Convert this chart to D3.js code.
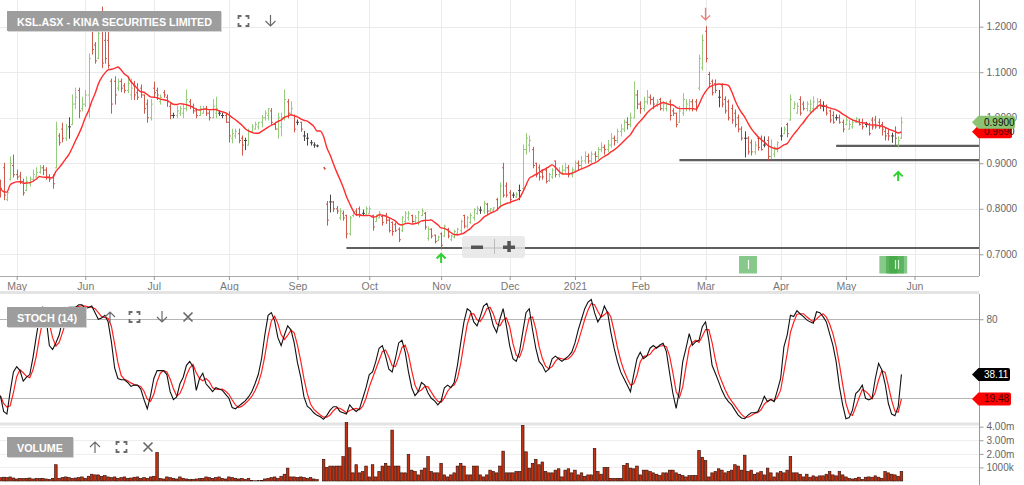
<!DOCTYPE html>
<html><head><meta charset="utf-8">
<script src="https://cdn.jsdelivr.net/npm/d3@7"></script>
<style>body{margin:0;background:#fff}svg{display:block;font-family:"Liberation Sans",Arial,sans-serif}</style>
</head><body><svg id="c" width="1024" height="485"></svg>
<script>
// ---------- DATA ----------
const monthLabels=["May","Jun","Jul","Aug","Sep","Oct","Nov","Dec","2021","Feb","Mar","Apr","May","Jun"];
const monthIdx=[5,26,47,70,91,113,135,156,176,196,216,239,259,280];
const priceTicks=[0.7,0.8,0.9,1.0,1.1,1.2];
const stochLevels=[80,20];
const volTicks=[1,2,3,4];
const volTickLabels=["1000k","2.00m","3.00m","4.00m"];
const supportLevels=[0.7138,0.907,0.938];
const supportStart=[106,208,256];
const signalIdx=[216,135,275];
const signalPrice=[1.215,0.7007,0.881];
const signalDir=["down","up","up"];
const eventIdx=[229,272,274,275];

const opens=[
.86,.89,.82,.865,.895,.875,.872,.86,.84,.855,
.865,.87,.88,.89,.885,.87,.87,.89,.96,.975,
.955,.98,.985,1.03,1.06,1.02,1.03,1.05,1.19,1.16,
1.13,1.2,1.17,1.17,1.08,1.08,1.065,1.08,1.07,1.06,
1.05,1.07,1.055,1.065,1.05,1.03,1.0,1.065,1.06,1.035,
1.055,1.045,1.025,1.005,1.005,1.01,1.01,1.02,1.035,1.025,
1.015,1.005,1.01,1.02,1.01,1.0,1.01,1.01,1.005,1.005,
.99,.955,.96,.965,.955,.95,.94,.97,.975,.98,
.99,1.0,1.005,1.015,.985,.975,.98,1.0,1.035,1.01,
1.005,.99,.99,.96,.955,.945,.94,.938,null,.89,
.81,.815,.815,.80,.78,.79,.785,.745,.785,.795,
.80,.79,.787,.79,.785,.772,.78,.783,.785,.775,
.77,.765,.755,.752,.772,.78,.785,.772,.77,.785,
.79,.735,.755,.742,.73,.745,.74,.755,.732,.738,
.745,.752,.785,.762,.77,.78,.79,.797,.795,.81,
.795,.797,.82,.805,.89,.85,.835,.83,.826,.84,
.845,.93,.94,.93,.90,.89,.88,.885,.862,.87,
.905,.875,.88,.885,.89,.875,.885,.90,.895,.905,
.915,.905,.92,.915,.93,.935,.93,.94,.955,.95,
.97,.975,.99,.985,1.0,1.05,1.03,1.02,1.035,1.045,
1.04,1.03,1.04,1.02,1.02,1.035,1.015,1.01,.99,1.01,
1.02,1.02,1.035,1.035,1.065,1.11,1.19,1.095,1.08,1.075,
1.045,1.07,1.04,1.035,1.02,1.01,1.0,.975,.955,.955,
.945,.925,.955,.955,.94,.95,.915,.92,.93,.96,
.965,.985,.995,1.02,1.01,1.04,1.03,1.02,1.015,1.02,
1.025,1.035,1.025,1.025,1.015,1.005,1.0,1.0,.99,.985,
.975,.98,.99,.995,.99,.985,.985,.995,.995,.99,
.985,.97,.965,.96,.97,.94,.955];
const highs=[
.863,.90,.84,.914,.918,.885,.88,.865,.87,.87,
.885,.89,.895,.895,.89,.875,.875,.99,.965,.988,
.985,1.0,1.05,1.065,1.065,1.045,1.06,1.14,1.195,1.165,
1.19,1.243,1.19,1.19,1.085,1.09,1.085,1.085,1.075,1.09,
1.085,1.08,1.075,1.072,1.05,1.039,1.04,1.078,1.065,1.05,
1.06,1.05,1.031,1.01,1.025,1.025,1.03,1.061,1.04,1.03,
1.02,1.025,1.025,1.025,1.015,1.04,1.045,1.015,1.01,1.01,
1.013,.975,.975,.975,.96,.955,.975,.985,.99,.99,
1.005,1.015,1.02,1.02,.99,1.01,1.01,1.061,1.04,1.035,
1.006,.995,.99,.97,.965,.95,.945,.94,null,.891,
.816,.83,.816,.805,.80,.795,.786,.783,.794,.80,
.804,.797,.804,.804,.786,.786,.794,.783,.79,.78,
.771,.769,.758,.783,.794,.794,.786,.785,.794,.80,
.792,.76,.756,.742,.74,.747,.764,.757,.742,.753,
.757,.775,.786,.783,.79,.80,.805,.804,.816,.812,
.80,.802,.823,.857,.90,.857,.84,.835,.835,.852,
.94,.965,.96,.935,.90,.896,.885,.89,.878,.888,
.905,.89,.895,.90,.895,.89,.905,.905,.915,.925,
.92,.925,.925,.935,.945,.94,.95,.965,.96,.975,
.985,.995,1.0,1.01,1.079,1.06,1.035,1.045,1.06,1.05,
1.045,1.04,1.043,1.035,1.035,1.039,1.02,1.01,1.025,1.053,
1.04,1.04,1.04,1.04,1.138,1.182,1.2,1.1,1.083,1.083,
1.06,1.075,1.046,1.039,1.028,1.017,1.006,.98,.969,.958,
.951,.947,.958,.96,.958,.958,.951,.936,.947,.978,
.98,.988,1.05,1.035,1.032,1.046,1.035,1.035,1.039,1.046,
1.042,1.04,1.035,1.028,1.017,1.013,1.006,1.006,.995,1.0,
.995,.997,1.0,.997,.997,.99,.988,1.0,1.003,.997,
.99,.978,.975,.966,.98,.958,1.001];
const lows=[
.826,.82,.818,.863,.87,.865,.855,.83,.84,.85,
.86,.87,.878,.875,.865,.86,.845,.89,.94,.947,
.95,.955,.985,1.02,1.0,1.015,1.025,1.0,1.14,1.12,
1.13,1.11,1.12,1.109,1.01,1.03,1.06,1.057,1.055,1.055,
1.04,1.04,1.04,1.045,1.01,.99,.995,1.046,1.04,1.03,
1.045,1.025,.998,1.0,1.0,1.005,1.0,1.015,1.02,1.01,
1.0,1.005,1.01,1.005,.995,1.0,1.0,1.005,1.0,.99,
.947,.945,.955,.945,.918,.93,.94,.97,.975,.975,
.98,.995,.995,.985,.975,.955,.96,.995,1.0,1.005,
.969,.985,.97,.95,.94,.94,.935,.936,null,.887,
.764,.793,.794,.79,.776,.775,.736,.742,.783,.785,
.782,.786,.786,.79,.753,.772,.78,.764,.768,.749,
.742,.75,.728,.75,.769,.775,.769,.77,.765,.785,
.755,.731,.736,.725,.73,.712,.739,.736,.73,.736,
.742,.747,.758,.758,.768,.775,.788,.79,.79,.79,
.794,.795,.797,.804,.826,.826,.813,.825,.825,.82,
.84,.92,.925,.89,.87,.863,.865,.857,.86,.867,
.87,.87,.875,.88,.87,.87,.88,.885,.89,.90,
.90,.90,.905,.91,.925,.92,.925,.935,.94,.945,
.96,.97,.975,.98,1.0,1.02,1.01,1.015,1.03,1.03,
1.02,1.025,1.017,1.015,1.015,.995,1.005,.98,.99,1.005,
1.015,1.015,1.015,1.015,1.061,1.105,1.123,1.068,1.05,1.055,
1.024,1.024,1.01,.995,.988,.98,.969,.951,.914,.92,
.918,.92,.929,.929,.936,.907,.91,.914,.925,.951,
.965,.958,.995,1.02,1.01,1.006,1.017,1.015,1.01,1.013,
1.02,1.02,1.015,1.006,.99,.988,.995,.988,.969,.985,
.975,.977,.99,.984,.975,.98,.962,.975,.977,.977,
.962,.951,.951,.946,.94,.936,.955];
const closes=[
.845,.83,.835,.90,.875,.87,.86,.835,.86,.865,
.875,.88,.89,.885,.87,.865,.855,.975,.945,.955,
.975,.98,1.03,1.045,1.015,1.03,1.05,1.13,1.15,1.125,
1.185,1.12,1.13,1.115,1.03,1.05,1.08,1.065,1.06,1.075,
1.065,1.05,1.045,1.05,1.02,1.0,1.03,1.055,1.05,1.045,
1.05,1.035,1.005,1.005,1.015,1.02,1.02,1.04,1.025,1.015,
1.005,1.02,1.02,1.01,1.0,1.025,1.02,1.01,1.005,.99,
.96,.965,.97,.95,.94,.95,.97,.98,.985,.99,
1.0,1.01,1.02,.99,.975,1.0,1.0,1.04,1.01,1.02,
.975,.99,.975,.96,.955,.945,.94,.938,null,.888,
.775,.815,.80,.795,.795,.78,.745,.78,.793,.787,
.785,.79,.80,.80,.76,.783,.79,.77,.775,.752,
.75,.752,.732,.78,.79,.79,.772,.78,.792,.795,
.76,.755,.74,.728,.738,.72,.762,.74,.74,.75,
.755,.772,.762,.78,.785,.798,.80,.797,.812,.795,
.80,.802,.80,.85,.83,.83,.82,.83,.832,.84,
.93,.955,.95,.895,.875,.87,.87,.86,.875,.885,
.875,.88,.885,.89,.875,.885,.90,.895,.905,.915,
.905,.92,.915,.93,.935,.93,.94,.955,.95,.97,
.975,.99,.985,1.0,1.05,1.03,1.02,1.035,1.045,1.04,
1.03,1.035,1.02,1.03,1.03,1.005,1.01,.985,1.015,1.04,
1.03,1.035,1.02,1.02,1.13,1.17,1.13,1.075,1.055,1.06,
1.045,1.03,1.015,1.0,.995,.985,.975,.955,.955,.925,
.925,.94,.935,.93,.94,.915,.935,.93,.945,.96,
.975,.965,1.04,1.03,1.025,1.01,1.02,1.03,1.03,1.035,
1.035,1.025,1.025,1.01,.995,.99,1.0,.99,.975,.995,
.985,.99,.998,.985,.98,.985,.965,.98,.98,.98,
.975,.96,.96,.96,.955,.95,.99];
const volumes=[
.25,.28,.25,.3,.22,.15,.2,.18,.2,.22,
.15,.2,.18,.2,.15,.12,.2,1.2,.2,.25,
.3,.25,.2,.22,.25,.3,.2,.35,.5,.45,
.45,.35,.4,.3,.25,.3,.2,.25,.3,.2,
.22,.28,.3,.2,.25,.2,.3,.35,2.1,.2,
.15,.3,.25,.2,.15,.3,.2,.15,.1,.12,
.15,.18,.2,.3,.25,.2,.25,.3,.2,.15,
.3,.25,.2,.15,.2,.12,.2,.03,.02,.03,
.05,.15,.2,.25,.3,.2,.35,.5,.95,.3,
.3,.25,.3,.25,.2,.25,.15,.1,null,1.6,
1.0,1.1,1.1,1.1,1.1,1.8,4.3,2.45,.6,1.2,
.6,.7,1.1,.3,1.2,.3,.7,1.1,1.3,1.1,
3.75,1.1,1.1,.6,.6,1.95,.8,.7,.45,.8,
.95,1.8,.7,.6,.6,1.3,.45,.3,.45,.6,
1.1,1.3,1.1,.45,.45,1.1,1.1,.45,.3,.45,
.8,.7,.6,1.1,2.2,.6,.6,.6,.7,.7,
4.1,2.15,.95,1.3,1.6,1.2,1.4,.7,.6,.6,
.8,.9,.3,.8,.9,.6,.8,.45,.6,.35,
.45,.45,2.4,.7,.5,1.0,1.0,.2,.2,.2,
.2,1.15,1.3,.95,.9,1.1,.45,.8,.8,.7,
.6,.5,.4,.6,.6,.8,.8,.6,.5,.4,
.3,.4,.4,.4,2.25,1.75,1.5,.3,.6,.7,
.9,.8,.6,.7,.8,1.2,1.1,.8,1.9,.7,
.8,.5,.6,.7,.45,.95,.6,.3,.6,.7,
.6,.8,1.8,.6,.6,.5,.3,.5,.28,.38,
.3,.38,.38,.5,.7,.45,.38,.7,.45,.3,
.2,.15,.2,.28,.12,.28,.3,.28,.38,.28,
.2,.7,.6,.5,.45,.35,.7];
const stochK=[
22,10,8,25,40,44,41,33,36,38,
51,67,82,89,81,60,57,62,68,79,
86,89,89,89,91,91,88,89,90,85,
80,81,83,78,63,43,35,34,34,32,
29,30,30,27,19,12,22,35,41,41,
41,38,25,19,21,31,36,45,48,44,
26,35,39,31,28,25,28,27,26,23,
20,13,12,14,16,18,21,25,31,38,
50,68,83,85,79,66,60,68,75,72,
62,47,36,21,14,12,9,7,6,4,
7,11,13.6,13.6,10,9,8,15,12,10,
12,20,28,38,40,48,58,60,52,42,
40,50,62,64,55,40,28,22,25,32,
30,24,20,18,15,18,28,30,28,32,
45,62,78,88,86,78,75,82,90,92,
85,75,70,80,88,75,60,50,48,55,
70,85,88,72,58,48,45,40,42,50,
52,50,48,50,52,55,62,72,80,88,
93,95,85,78,82,90,85,70,58,48,
40,35,30,25,38,50,55,50,52,58,
60,58,60.4,61.7,55.4,39,23.6,12.3,26,47.6,
57.8,69,60.4,63,64,74.4,78,64,45,39,
32.6,26,21,17.4,15,11,7.2,5,4.5,7.2,
9,9,9.8,15,21.6,17.4,19,17.4,26,35,
59,68,83,82,86.5,84,82,79.5,78,77,
85.7,85,82,78,69,60.4,47.8,28.8,15,4.5,
5.3,11,23.6,26,30,20,18.7,20,35,46.5,
41.5,31,16,8,6.73,13.6,38.11];

// ---------- DERIVED INDICATORS ----------
const N=closes.length, idx=d3.range(N);
const ma=idx.map(i=>{const v=[];for(let j=i;j>=0&&v.length<10;j--) if(closes[j]!=null) v.push(closes[j]);return d3.mean(v);});
const stochD=idx.map(i=>d3.mean(stochK.slice(Math.max(0,i-2),i+1)));

// ---------- LAYOUT ----------
const svg=d3.select("#c");
const R=979, priceBottom=276;
const x=d3.scaleLinear().domain([5,280]).range([16.7,914.5]);
const yP=d3.scaleLinear().domain([0.7,1.2]).range([254.3,26.7]);
const yS=d3.scaleLinear().domain([0,100]).range([424.6,292.9]);
const yV=d3.scaleLinear().domain([0,4]).range([481,426.7]);
const px=v=>Math.round(v)+0.5;
const FONT="Liberation Sans, Arial";

const defs=svg.append("defs");
defs.append("clipPath").attr("id","cp").append("rect").attr("x",0).attr("y",0).attr("width",R).attr("height",priceBottom);
defs.append("clipPath").attr("id","cs").append("rect").attr("x",0).attr("y",294).attr("width",R).attr("height",129);

// price grid
const grid=svg.append("g");
grid.selectAll(".h").data(priceTicks).join("line").attr("x1",0).attr("x2",R).attr("y1",d=>px(yP(d))).attr("y2",d=>px(yP(d))).attr("stroke","#ebebeb");
grid.selectAll(".v").data(monthIdx).join("line").attr("x1",d=>px(x(d))).attr("x2",d=>px(x(d))).attr("y1",0).attr("y2",priceBottom).attr("stroke","#ebebeb");

// support lines
svg.append("g").selectAll("line").data(supportLevels).join("line")
 .attr("x1",(d,i)=>x(supportStart[i])).attr("x2",R).attr("y1",d=>yP(d)).attr("y2",d=>yP(d))
 .attr("stroke","#5e5e5e").attr("stroke-width",2.2);

// OHLC bars
const bars=svg.append("g").attr("clip-path","url(#cp)");
const col=i=>closes[i]>opens[i]?"#8cc66f":closes[i]<opens[i]?"#c9483a":"#333";
idx.filter(i=>closes[i]!=null).forEach(i=>{
  const cx=px(x(i)), c=col(i);
  const g=bars.append("g").attr("stroke",c).attr("stroke-width",1).attr("opacity",0.9);
  const hi=yP(highs[i]), lo=yP(lows[i]);
  g.append("line").attr("x1",cx).attr("x2",cx).attr("y1",hi-0.5).attr("y2",Math.max(lo,hi+1)+0.5);
  g.append("line").attr("x1",cx-1.5).attr("x2",cx).attr("y1",yP(opens[i])).attr("y2",yP(opens[i]));
  g.append("line").attr("x1",cx).attr("x2",cx+1.5).attr("y1",yP(closes[i])).attr("y2",yP(closes[i]));
});
// moving average
bars.append("path").datum(idx).attr("fill","none").attr("stroke","#ff2d2d").attr("stroke-width",1.4)
 .attr("d",d3.line().x(i=>x(i)).y(i=>yP(ma[i])).curve(d3.curveMonotoneX));

// signal arrows
signalIdx.forEach((s,k)=>{
  const cx=x(s), ty=yP(signalPrice[k]);
  const dn=signalDir[k]==="down";
  const color=dn?"#f07a7a":"#2fd02f";
  const d=dn?`M${cx},${ty-12}V${ty}M${cx-4.5},${ty-4.5}L${cx},${ty}L${cx+4.5},${ty-4.5}`
            :`M${cx},${ty+9}V${ty}M${cx-4.5},${ty+4.5}L${cx},${ty}L${cx+4.5},${ty+4.5}`;
  svg.append("path").attr("d",d).attr("fill","none").attr("stroke",color).attr("stroke-width",dn?1.4:2);
});

// event boxes
const ev=svg.append("g");
eventIdx.forEach(e=>{
  ev.append("rect").attr("x",x(e)-9).attr("y",256).attr("width",18).attr("height",17.5).attr("fill","#3ea842").attr("opacity",0.62);
});
eventIdx.forEach((e,k)=>{
  if(k!==1) ev.append("line").attr("x1",px(x(e))).attr("x2",px(x(e))).attr("y1",260).attr("y2",269).attr("stroke","#fff").attr("stroke-width",1.2).attr("opacity",k===0?1:0.8);
});

// zoom control
const zc=svg.append("g");
zc.append("rect").attr("x",462).attr("y",236).attr("width",63).attr("height",22).attr("rx",3).attr("fill","#e6e6e6").attr("opacity",0.85);
zc.append("rect").attr("x",471).attr("y",245.5).attr("width",12).attr("height",3.5).attr("fill","#555");
zc.append("line").attr("x1",494.5).attr("x2",494.5).attr("y1",239).attr("y2",254).attr("stroke","#bbb");
zc.append("rect").attr("x",503).attr("y",245.5).attr("width",12).attr("height",3.5).attr("fill","#555");
zc.append("rect").attr("x",507.3).attr("y",241).attr("width",3.5).attr("height",11).attr("fill","#555");

// price axes
svg.append("line").attr("x1",px(R)).attr("x2",px(R)).attr("y1",0).attr("y2",priceBottom).attr("stroke","#999");
svg.append("line").attr("x1",0).attr("x2",R).attr("y1",priceBottom+0.5).attr("y2",priceBottom+0.5).attr("stroke","#aaa");
function styleAxis(a,fill){a.select(".domain").remove();a.selectAll("line").attr("stroke","#999");
  a.selectAll("text").attr("fill",fill).style("font-size","10px").style("font-family",FONT);}
const ya=svg.append("g").attr("transform",`translate(${px(R)},0)`)
 .call(d3.axisRight(yP).tickValues(priceTicks).tickFormat(d3.format(".4f")).tickSize(4).tickPadding(3));
styleAxis(ya,"#666");
const xa=svg.append("g").attr("transform",`translate(0,${priceBottom})`)
 .call(d3.axisBottom(x).tickValues(monthIdx).tickFormat((d,i)=>monthLabels[i]).tickSize(4).tickPadding(3));
styleAxis(xa,"#777"); xa.selectAll("text").style("font-size","10.5px");

// panel separators
svg.append("rect").attr("x",0).attr("y",291).attr("width",R).attr("height",3).attr("fill","#e4e4e4");
svg.append("rect").attr("x",0).attr("y",422.5).attr("width",R).attr("height",3).attr("fill","#e4e4e4");

// ---------- STOCH ----------
const st=svg.append("g");
st.selectAll("line.l").data(stochLevels).join("line").attr("x1",0).attr("x2",R).attr("y1",d=>px(yS(d))).attr("y2",d=>px(yS(d))).attr("stroke","#b5b5b5");
svg.append("line").attr("x1",px(R)).attr("x2",px(R)).attr("y1",294).attr("y2",485).attr("stroke","#999");
const sc=st.append("g").attr("clip-path","url(#cs)");
sc.append("path").datum(idx).attr("fill","none").attr("stroke","#ff2020").attr("stroke-width",1.2).attr("d",d3.line().x(i=>x(i)).y(i=>yS(stochD[i])));
sc.append("path").datum(idx).attr("fill","none").attr("stroke","#111").attr("stroke-width",1.1).attr("d",d3.line().x(i=>x(i)).y(i=>yS(stochK[i])));
const sa=svg.append("g").attr("transform",`translate(${px(R)},0)`)
 .call(d3.axisRight(yS).tickValues([80]).tickSize(4).tickPadding(3));
styleAxis(sa,"#666");

// ---------- VOLUME ----------
const vg=svg.append("g");
vg.selectAll("line").data(volTicks).join("line").attr("x1",0).attr("x2",R).attr("y1",d=>px(yV(d))).attr("y2",d=>px(yV(d))).attr("stroke","#eeeeee");
vg.selectAll("rect").data(idx.filter(i=>volumes[i]!=null)).join("rect")
 .attr("x",i=>x(i)-1.3).attr("width",2.6).attr("y",i=>yV(volumes[i])).attr("height",i=>yV(0)-yV(volumes[i]))
 .attr("fill","#c2300f").attr("stroke","#2a0a05").attr("stroke-width",0.6);
const va=svg.append("g").attr("transform",`translate(${px(R)},0)`)
 .call(d3.axisRight(yV).tickValues(volTicks).tickFormat((d,i)=>volTickLabels[i]).tickSize(4).tickPadding(3));
styleAxis(va,"#666");

// ---------- VALUE TAGS ----------
function tag(cy,text,fill,tc,right){
  const tip=972,l=978.5,h=13,t=cy-h/2,b=cy+h/2;
  svg.append("path").attr("d",`M${tip},${cy}L${l},${t}H${right-2}Q${right},${t} ${right},${t+2}V${b-2}Q${right},${b} ${right-2},${b}H${l}Z`).attr("fill",fill);
  svg.append("text").attr("x",984).attr("y",cy+3.5).attr("fill",tc).style("font-size","10px").style("font-family",FONT).text(text);
}
const lastI=N-1;
tag(yP(ma[lastI]),d3.format(".4f")(ma[lastI]),"#ff0000","#5a0000",1012);
tag(yP(closes[lastI]),d3.format(".4f")(closes[lastI]),"#8cc373","#111",1015);
tag(yS(stochK[lastI]),d3.format(".2f")(stochK[lastI]),"#000","#fff",1010);
tag(yS(stochD[lastI]),d3.format(".2f")(stochD[lastI]),"#ff0000","#4a0000",1011);

// ---------- TITLE BOXES & ICONS ----------
function label(x0,y0,w,text,tw){
  svg.append("rect").attr("x",x0+1).attr("y",y0+1).attr("width",w).attr("height",20).attr("fill","#d6d6d6");
  svg.append("rect").attr("x",x0).attr("y",y0).attr("width",w).attr("height",20).attr("fill","#9d9d9d");
  svg.append("text").attr("x",x0+10).attr("y",y0+14.5).attr("fill","#fff").style("font-size","11.5px").style("font-weight","bold").style("font-family",FONT)
   .attr("textLength",tw).attr("lengthAdjust","spacingAndGlyphs").text(text);
}
const ic=(d,w)=>svg.append("path").attr("d",d).attr("fill","none").attr("stroke","#6a6a6a").attr("stroke-width",w||1.4);
const expand=(cx,cy)=>ic(`M${cx-5},${cy-2}V${cy-5}H${cx-2}M${cx+2},${cy-5}H${cx+5}V${cy-2}M${cx+5},${cy+2}V${cy+5}H${cx+2}M${cx-2},${cy+5}H${cx-5}V${cy+2}`,1.8);
const down=(cx,cy)=>ic(`M${cx},${cy-6}V${cy+5}M${cx-5},${cy}L${cx},${cy+5}L${cx+5},${cy}`,1.2);
const up=(cx,cy)=>ic(`M${cx},${cy+6}V${cy-5}M${cx-5},${cy}L${cx},${cy-5}L${cx+5},${cy}`,1.2);
const cross=(cx,cy)=>ic(`M${cx-4.5},${cy-4.5}L${cx+4.5},${cy+4.5}M${cx+4.5},${cy-4.5}L${cx-4.5},${cy+4.5}`,1.7);
label(7,11,214,"KSL.ASX - KINA SECURITIES LIMITED",195);
expand(243.5,21); down(270.5,21);
label(7,307,79,"STOCH (14)",60);
up(110,317); expand(134.5,317); down(162,317); cross(188,317);
label(7,437,66,"VOLUME",46);
up(95,447); expand(121.5,447); cross(148,447);
</script></body></html>
